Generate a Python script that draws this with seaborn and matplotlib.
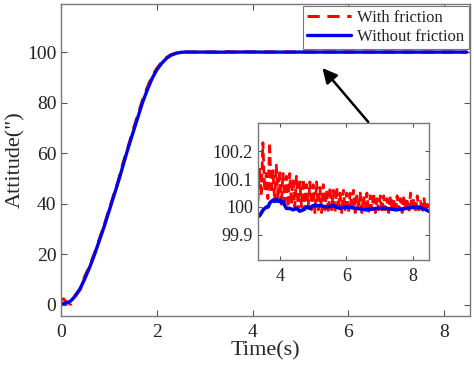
import numpy as np
import pandas as pd
import matplotlib
matplotlib.use("Agg")
import matplotlib.pyplot as plt
import seaborn as sns

# ---------------------------------------------------------------------------
# Data
# ---------------------------------------------------------------------------
rise_time = [0.0, 0.05, 0.1, 0.2, 0.3, 0.4, 0.5, 0.6, 0.7, 0.8, 0.9, 1.0, 1.1,
             1.2, 1.3, 1.4, 1.5, 1.6, 1.7, 1.8, 1.9, 2.0, 2.1, 2.2, 2.3, 2.4,
             2.5, 2.6, 3.0]
rise_without = [0.5, 0.5, 0.6, 1.5, 3.5, 6.5, 10.5, 15.0, 20.0, 25.5, 31.0,
                37.0, 43.0, 49.0, 55.5, 62.0, 68.0, 74.0, 80.0, 85.0, 89.5,
                93.0, 95.5, 97.5, 98.8, 99.5, 99.9, 100.0, 100.0]
rise_with = [2.0, 2.3, 1.2, 0.2, 4.0, 6.0, 11.5, 15.5, 20.5, 26.0, 31.5,
             37.5, 43.5, 49.5, 56.5, 62.5, 69.0, 75.0, 81.0, 86.0, 90.5,
             93.5, 96.0, 97.8, 99.0, 99.6, 100.0, 100.05, 100.02]

# steady state (zoomed region), without friction
ss_time_without = [3.34, 3.4, 3.45, 3.5, 3.55, 3.6, 3.65, 3.7, 3.75, 3.8,
                   3.85, 3.9, 3.95, 4.0, 4.05, 4.1, 4.15, 4.2, 4.3, 4.4,
                   4.5, 4.6, 4.7, 4.8, 4.9, 5.0, 5.2, 5.4, 5.6, 5.8, 6.0,
                   6.3, 6.6, 6.9, 7.2, 7.5, 7.8, 8.1, 8.3, 8.48]
ss_without = [99.965, 99.97, 99.98, 99.99, 99.995, 100.0, 100.0, 100.015,
              100.02, 100.025, 100.02, 100.028, 100.02, 100.025, 100.015,
              100.02, 100.005, 99.995, 99.995, 99.99, 99.995, 99.985, 99.99,
              100.0, 99.995, 100.005, 100.005, 100.0, 100.005, 99.995, 100.0,
              99.995, 99.99, 99.995, 99.995, 99.99, 99.995, 100.0, 99.995,
              99.985]

# steady state (zoomed region), with friction: oscillating samples
ss_with = [100.02, 100.14, 100.04, 100.23, 100.06, 100.12, 100.03, 100.23,
           100.05, 100.13, 100.02,
           100.15, 100.03, 100.13, 100.01, 100.12, 100.02, 100.11, 100.00,
           100.12, 100.01, 100.10,
           100.00, 100.11, 99.99, 100.09, 100.00, 100.10, 99.99, 100.08,
           100.00, 100.09, 99.99,
           100.08, 99.98, 100.09, 99.99, 100.07, 99.98, 100.08, 99.99,
           100.06, 99.98, 100.07,
           99.99, 100.06, 99.98, 100.07, 99.99, 100.05, 99.98, 100.06,
           99.99, 100.05, 99.98,
           100.05, 99.99, 100.06, 99.98, 100.04, 99.99, 100.05, 99.98,
           100.04, 99.99, 100.05,
           99.98, 100.04, 99.99, 100.05, 99.98, 100.03, 99.99, 100.04,
           99.98, 100.04, 99.99,
           100.03, 99.98, 100.04, 99.99, 100.03, 99.98, 100.04, 99.99,
           100.03, 99.98, 100.04,
           99.99, 100.03, 99.98, 100.05, 99.99, 100.03, 99.98, 100.04,
           99.99, 100.02, 99.98,
           100.03, 99.99, 100.01, 99.98]
ss_time_with = list(np.linspace(3.34, 8.48, len(ss_with)))

labels = ["With friction", "Without friction"]
RED = "#ff0000"
BLUE = "#0000e6"

# ---------------------------------------------------------------------------
sns.set_style("ticks")
plt.rcParams["font.family"] = ["Liberation Serif", "DejaVu Serif"]
plt.rcParams["xtick.direction"] = "in"
plt.rcParams["ytick.direction"] = "in"

df_with = pd.DataFrame({"t": rise_time + ss_time_with, "y": rise_with + ss_with})
df_without = pd.DataFrame({"t": rise_time + ss_time_without,
                           "y": rise_without + ss_without})

fig = plt.figure(figsize=(4.74, 3.71), dpi=100)
ax = fig.add_axes([0.129, 0.148, 0.863, 0.841])

sns.lineplot(data=df_with, x="t", y="y", ax=ax, color=RED, lw=2.2,
             linestyle=(0, (4, 2.5)), label=labels[0], sort=False)
sns.lineplot(data=df_without, x="t", y="y", ax=ax, color=BLUE, lw=2.4,
             label=labels[1], sort=False)

ax.set_xlim(0, 8.55)
ax.set_ylim(-4.5, 119)
ax.set_xticks([0, 2, 4, 6, 8])
ax.set_yticks([0, 20, 40, 60, 80, 100])
ax.tick_params(labelsize=14, top=True, right=True, length=4, color="#555555",
               colors="#222222")
ax.tick_params(axis="x", pad=6)
ax.set_xlabel("Time(s)", fontsize=16, labelpad=0)
ax.set_ylabel('Attitude(")', fontsize=16, labelpad=1)
for sp in ax.spines.values():
    sp.set_edgecolor("#777777")
    sp.set_linewidth(1.0)

leg = ax.legend(loc="upper right", fontsize=12, handlelength=2.6,
                fancybox=False, edgecolor="#777777", framealpha=1,
                borderaxespad=0.1, borderpad=0.25, labelspacing=0.2,
                handletextpad=0.4)
leg.get_frame().set_linewidth(0.8)

ax.annotate("", xy=(5.46, 93.7), xytext=(6.42, 72.3),
            arrowprops=dict(arrowstyle="-|>", color="black", lw=1.8,
                            mutation_scale=22, shrinkA=0, shrinkB=0))

# inset
axin = fig.add_axes([0.544, 0.299, 0.361, 0.369])
sns.lineplot(x=ss_time_with, y=ss_with, ax=axin, color=RED, lw=2.0,
             linestyle=(0, (3, 1.5)), sort=False)
sns.lineplot(x=ss_time_without, y=ss_without, ax=axin, color=BLUE, lw=2.6,
             sort=False)
axin.set_xlim(3.34, 8.48)
axin.set_ylim(99.81, 100.3)
axin.set_xticks([4, 6, 8])
axin.set_yticks([99.9, 100, 100.1, 100.2])
axin.set_yticklabels(["99.9", "100", "100.1", "100.2"])
axin.tick_params(labelsize=13, top=True, right=True, length=3,
                 color="#555555", colors="#222222")
axin.tick_params(axis="x", pad=6)
axin.set_xlabel("")
axin.set_ylabel("")
for sp in axin.spines.values():
    sp.set_edgecolor("#777777")
    sp.set_linewidth(1.0)

fig.savefig("out.png", dpi=100)
plt.close(fig)
